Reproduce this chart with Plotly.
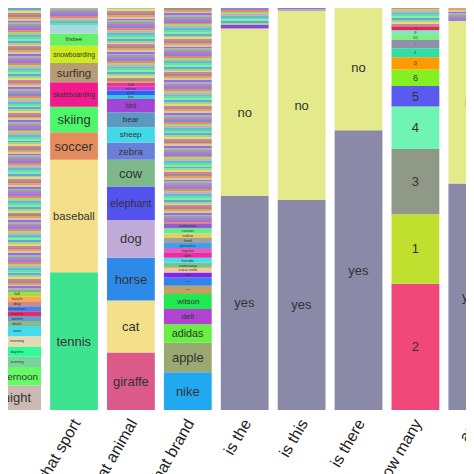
import plotly.graph_objects as go

# question types (first and last columns are cut off by the frame)
questions = ["what time", "what sport", "what animal", "what brand",
             "is the", "is this", "is there", "how many", "are"]

# answer shares in percent, bottom to top
answers = {
    "what time": [("night", 6.0), ("afternoon", 4.5), ("evening", 2.5), ("daytime", 2.5),
                  ("morning", 2.5), ("noon", 2.5), ("dusk", 1.2), ("winter", 1.2),
                  ("sunset", 1.2), ("christmas", 1.2), ("day", 1.2), ("lunch", 1.2), ("fall", 1.2)],
    "what sport": [("tennis", 33.6), ("baseball", 27.4), ("soccer", 6.7), ("skiing", 6.2),
                   ("skateboarding", 6.0), ("surfing", 4.7), ("snowboarding", 4.2),
                   ("frisbee", 3.0), ("", 2.2)],
    "what animal": [("giraffe", 14.0), ("cat", 12.7), ("horse", 10.4), ("dog", 9.2),
                    ("elephant", 8.2), ("cow", 6.5), ("zebra", 4.2), ("sheep", 3.7),
                    ("bear", 3.7), ("bird", 3.2), ("kite", 1.0), ("duck", 1.0),
                    ("mouse", 1.0), ("fish", 1.0)],
    "what brand": [("nike", 9.2), ("apple", 7.2), ("adidas", 4.5), ("dell", 3.7),
                   ("wilson", 3.7), ("sony", 2.0), ("pepsi", 2.0), ("hp", 1.2),
                   ("coca cola", 1.2), ("samsung", 1.2), ("honda", 1.2), ("ibm", 1.2),
                   ("toyota", 1.2), ("yamaha", 1.2), ("ford", 1.2), ("nokia", 1.2),
                   ("canon", 1.2), ("unknown", 1.2)],
    "is the": [("yes", 52.2), ("no", 40.8), ("", 1.0)],
    "is this": [("yes", 51.2), ("no", 46.3)],
    "is there": [("yes", 68.2), ("no", 30.6)],
    "how many": [("2", 30.8), ("1", 16.9), ("3", 15.9), ("4", 10.4), ("5", 5.0),
                 ("6", 4.0), ("0", 3.0), ("8", 2.2), ("7", 2.0), ("10", 1.2),
                 ("9", 1.2), ("12", 0.8)],
    "are": [("yes", 55.2), ("no", 39.8)],
}

seg_colors = {
    "what time": ["#cbbab2", "#66fa66", "#7ad39c", "#33fa99", "#e6d8b0", "#44dcec",
                  "#8abb8a", "#6a9acc", "#ec2a6a", "#3a88f8", "#d08888", "#ffaa44", "#a0e040"],
    "what sport": ["#3ee390", "#f4e08a", "#e48c5c", "#4cf86a", "#f41a8c", "#b89c74",
                   "#cceb1c", "#66f066", "#a8d8e0"],
    "what animal": ["#dc5a8a", "#f4e08a", "#2e8ae8", "#c0aad8", "#5252ee", "#7db88a",
                    "#6a80d8", "#42d8e8", "#5a9ac0", "#a244d8", "#40c8d0", "#2a64ff",
                    "#b444e0", "#f03292"],
    "what brand": ["#22a8f0", "#9aa872", "#66f042", "#b044d0", "#22e852", "#c0a064",
                   "#3282e8", "#8424f0", "#f0c8a0", "#80c080", "#40e0f0", "#f02aa0",
                   "#e060c0", "#40a0f0", "#a0a0a0", "#e0d060", "#60f090", "#9060d0"],
    "is the": ["#8a8aa8", "#e4ea8c", "#9040e0"],
    "is this": ["#8a8aa8", "#e4ea8c"],
    "is there": ["#8a8aa8", "#e4ea8c"],
    "how many": ["#f04878", "#c0e030", "#909888", "#70f4b4", "#5a5af0", "#84f022",
                 "#ff9a00", "#30e0a0", "#9090a8", "#80f080", "#80e8c0", "#f02060"],
    "are": ["#8a8aa8", "#e4ea8c"],
}

# palette for the many tiny answers stacked at the top
tail_palette = ["#8fa89a", "#c8a8d8", "#9ad890", "#e0c890", "#8888c8", "#60e0b0",
                "#d87ab0", "#b0b0b0", "#a0e060", "#70a0e0", "#e0a070", "#c070e0",
                "#60c0c0", "#e0e070", "#9070f0", "#f08080", "#80f0a0", "#a09080"]
tail_step = 0.45

xs, ys, bases, cols, texts, sizes = [], [], [], [], [], []
for qi, q in enumerate(questions):
    base = 0.0
    for (name, v), c in zip(answers[q], seg_colors[q]):
        xs.append(qi); ys.append(v); bases.append(base); cols.append(c)
        texts.append(name)
        sizes.append(13 if v >= 4 else 8)
        base += v
    k = 0
    while base < 100 - 1e-6:
        h = min(tail_step, 100 - base)
        xs.append(qi); ys.append(h); bases.append(base)
        cols.append(tail_palette[(k * 7 + qi * 5) % len(tail_palette)])
        texts.append(""); sizes.append(8)
        base += h
        k += 1

fig = go.Figure(go.Bar(
    x=xs, y=ys, base=bases,
    marker=dict(color=cols, line=dict(width=0)),
    text=texts, textposition="inside", insidetextanchor="middle", textangle=0,
    textfont=dict(size=sizes, color="#333333", family="Liberation Sans"),
    width=0.84, hoverinfo="skip",
))

fig.update_layout(
    width=474, height=474,
    margin=dict(l=0, r=0, t=0, b=72, pad=0),
    paper_bgcolor="white", plot_bgcolor="white",
    showlegend=False, barmode="overlay",
    font=dict(family="Liberation Sans", color="#222222"),
)
fig.update_xaxes(range=[-0.16, 8.17], tickmode="array", tickvals=list(range(len(questions))),
                 ticktext=questions, tickangle=-60, tickfont=dict(size=16),
                 showgrid=False, zeroline=False, showline=False, ticks="",
                 automargin=False)
fig.update_yaxes(range=[0, 98], visible=False)

fig.write_html("out.html")
